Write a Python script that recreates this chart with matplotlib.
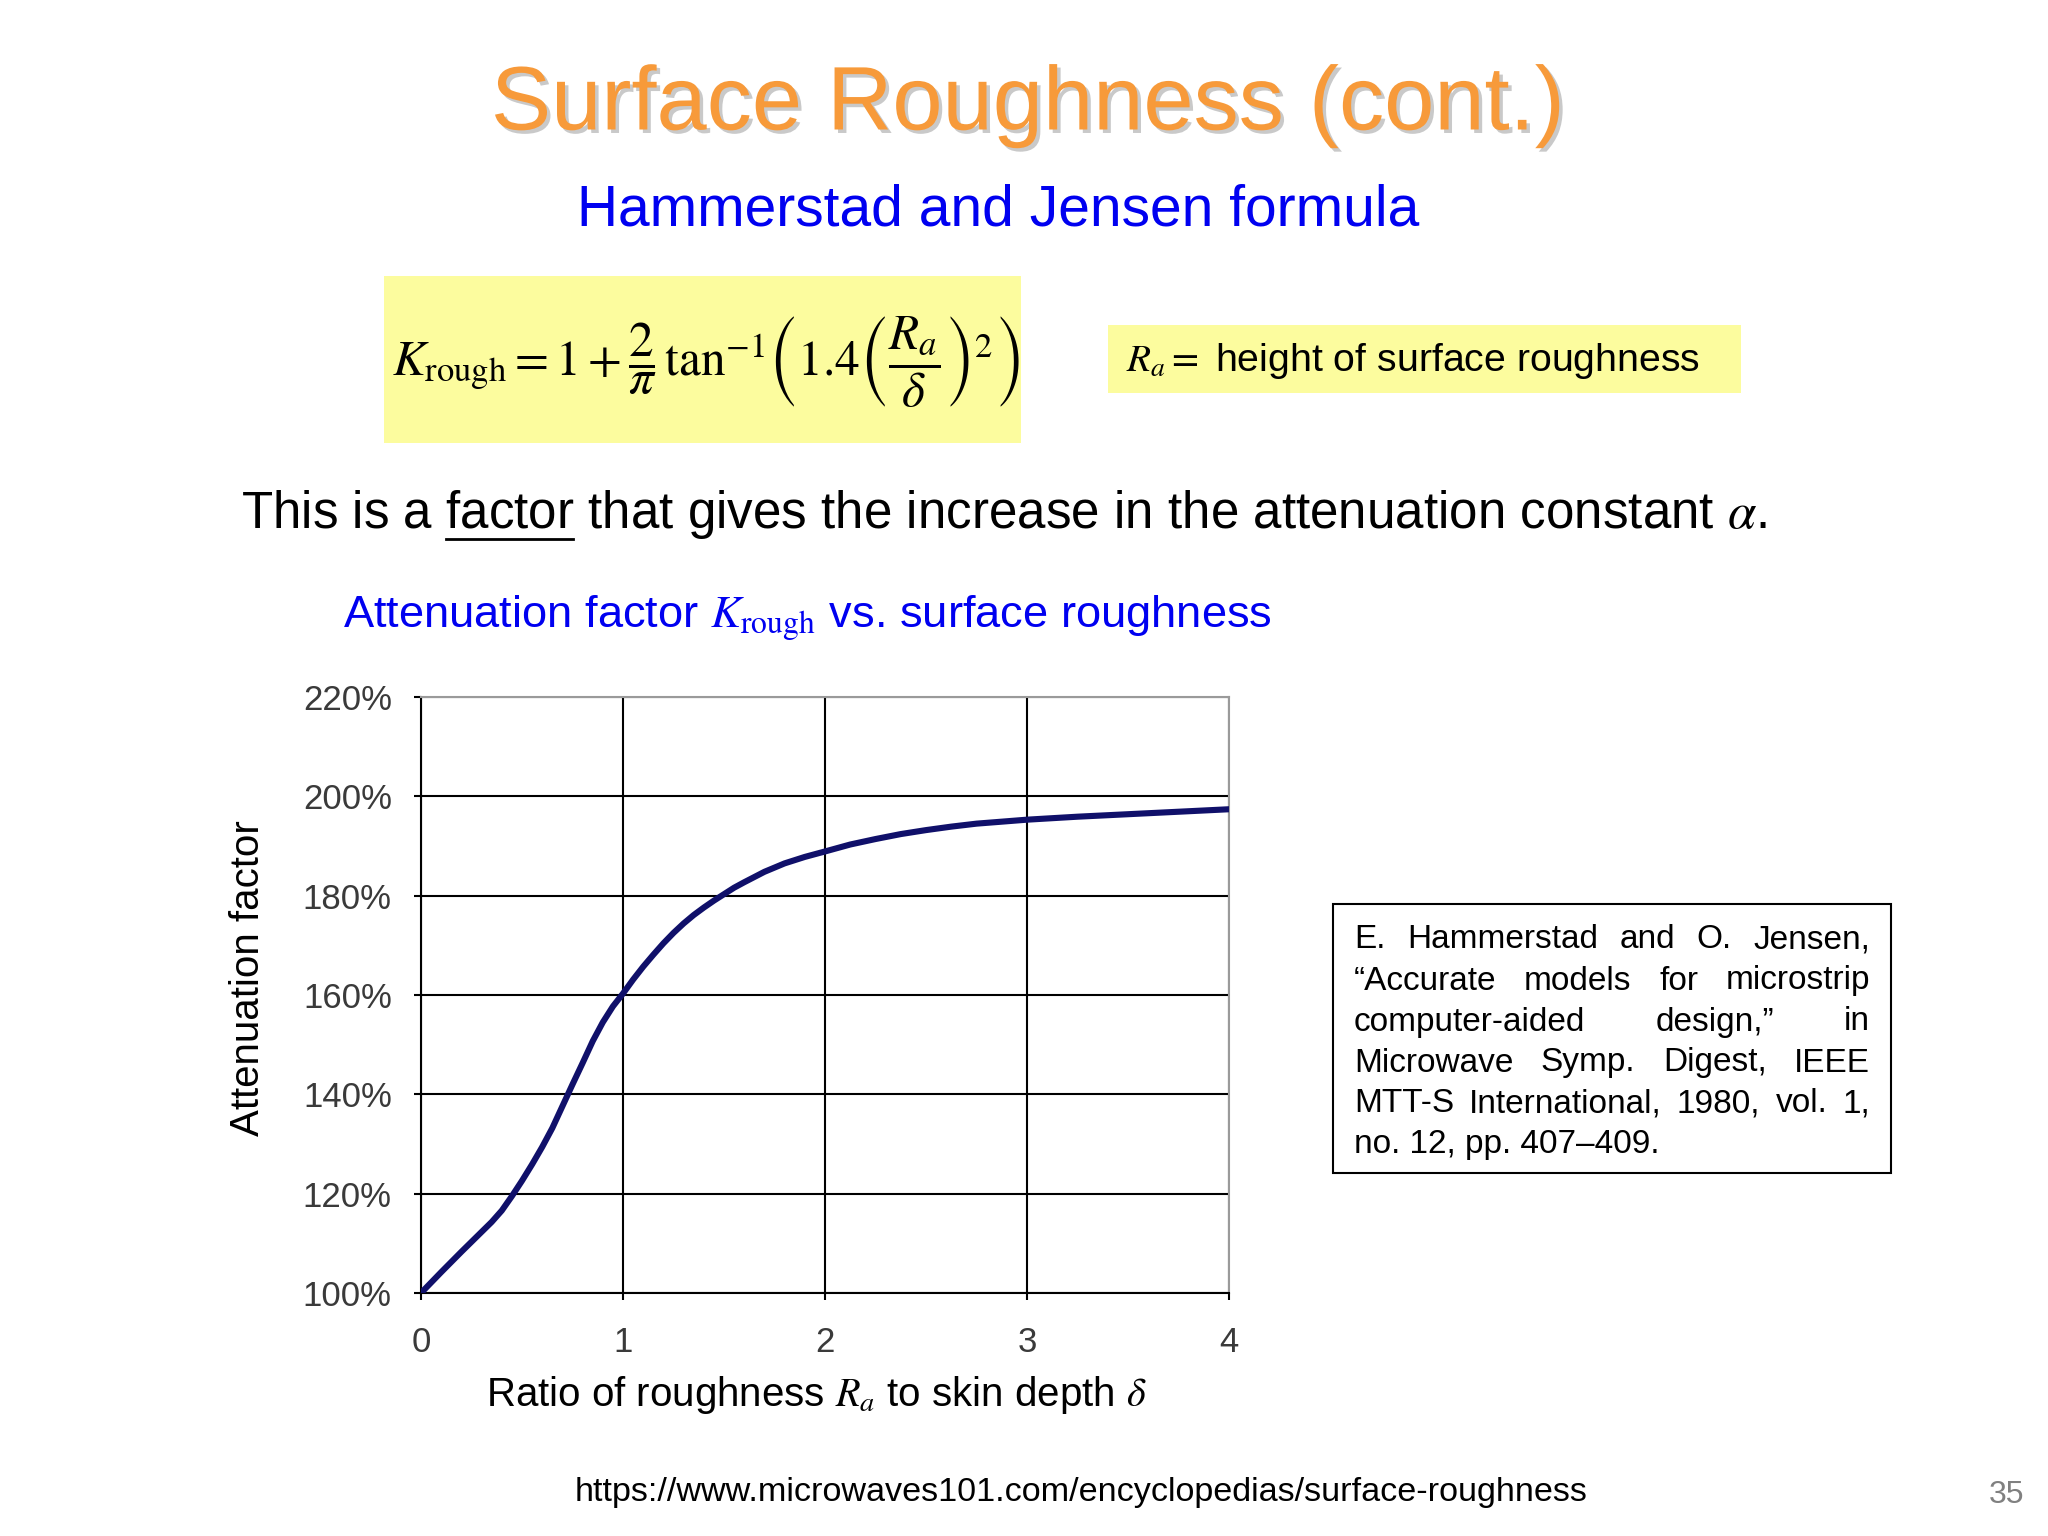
import matplotlib
matplotlib.use("Agg")
import matplotlib.pyplot as plt
import matplotlib.patheffects as pe
from matplotlib.patches import Rectangle
from matplotlib.ticker import FuncFormatter

# Ratio of roughness Ra to skin depth
ratio = [0, 0.1, 0.2, 0.3, 0.35, 0.4, 0.45, 0.5, 0.55, 0.6, 0.65, 0.7, 0.75,
         0.8, 0.85, 0.9, 0.95, 1.0, 1.05, 1.1, 1.15, 1.2, 1.25, 1.3, 1.35,
         1.4, 1.45, 1.5, 1.55, 1.6, 1.7, 1.8, 1.9, 2.0, 2.125, 2.25, 2.375,
         2.5, 2.625, 2.75, 3.0, 3.25, 3.5, 3.75, 4.0]
# Attenuation factor in percent
atten_pct = [100, 104.2, 108.3, 112.3, 114.3, 116.6, 119.5, 122.6, 125.9,
             129.4, 133.2, 137.6, 142.0, 146.3, 150.7, 154.5, 157.7, 160.3,
             163.1, 165.7, 168.1, 170.4, 172.5, 174.4, 176.1, 177.6, 179.0,
             180.3, 181.6, 182.7, 184.8, 186.5, 187.8, 188.9, 190.3, 191.4,
             192.4, 193.2, 193.9, 194.5, 195.3, 195.9, 196.4, 196.9, 197.4]

x_ticks = [0, 1, 2, 3, 4]
y_ticks = [100, 120, 140, 160, 180, 200, 220]

ref_lines = [
    "E. Hammerstad and O. Jensen,",
    "\u201cAccurate models for microstrip",
    "computer-aided design,\u201d in",
    "Microwave Symp. Digest, IEEE",
    "MTT-S International, 1980, vol. 1,",
    "no. 12, pp. 407\u2013409.",
]

W, H = 2048, 1536
plt.rcParams["font.family"] = ["Liberation Sans", "DejaVu Sans"]
plt.rcParams["mathtext.fontset"] = "stix"

fig = plt.figure(figsize=(W / 100, H / 100), dpi=100)
fig.patch.set_facecolor("white")


def fx(px):
    return px / W


def fy(py):
    return 1 - py / H


# Title
fig.text(fx(1028), fy(106), "Surface Roughness (cont.)", color="#F79A3A",
         fontsize=65, ha="center", va="center",
         path_effects=[pe.SimplePatchShadow(offset=(2.5, -2.5), shadow_rgbFace="#888888", alpha=0.45),
                       pe.Normal()])
fig.text(fx(998), fy(210), "Hammerstad and Jensen formula", color="#0000F0",
         fontsize=41, ha="center", va="center")

# Formula boxes
fig.patches.append(Rectangle((fx(384), fy(443)), fx(1021) - fx(384), fy(276) - fy(443),
                             transform=fig.transFigure, facecolor="#FCFC9E", edgecolor="none"))
fig.text(fx(392), fy(362),
         r"$K_{\mathrm{rough}}=1+\dfrac{2}{\pi}\,\mathrm{tan}^{-1}\left(1.4\left(\dfrac{R_a}{\delta}\right)^{2}\right)$",
         fontsize=35.5, ha="left", va="center", color="black")
fig.patches.append(Rectangle((fx(1108), fy(393)), fx(1741) - fx(1108), fy(325) - fy(393),
                             transform=fig.transFigure, facecolor="#FCFC9E", edgecolor="none"))
fig.text(fx(1126), fy(361), r"$R_a=$ height of surface roughness",
         fontsize=28.3, ha="left", va="center", color="black")

# Sentence with underlined word
sent_x, sent_y, sent_fs = 241, 515, 36.8
fig.text(fx(sent_x), fy(sent_y),
         r"This is a factor that gives the increase in the attenuation constant $\alpha$.",
         fontsize=sent_fs, ha="left", va="center", color="black")
renderer = fig.canvas.get_renderer()


def text_width(s, fs):
    t = fig.text(0, 0, s, fontsize=fs)
    w = t.get_window_extent(renderer).width
    t.remove()
    return w


u0 = sent_x + text_width("This is a x", sent_fs) - text_width("x", sent_fs)
u1 = sent_x + text_width("This is a factor", sent_fs)
fig.add_artist(plt.Line2D([fx(u0), fx(u1)], [fy(sent_y + 24), fy(sent_y + 24)],
                          transform=fig.transFigure, color="black", lw=2))

fig.text(fx(343), fy(618), r"Attenuation factor $K_{\mathrm{rough}}$ vs. surface roughness",
         fontsize=32.6, ha="left", va="center", color="#0000F0")

# Chart
ax = fig.add_axes([fx(421), fy(1293), fx(1229) - fx(421), fy(697) - fy(1293)])
ax.plot(ratio, atten_pct, color="#10106A", lw=4.4, solid_joinstyle="round",
        solid_capstyle="round", zorder=3)
ax.set_xlim(0, 4)
ax.set_ylim(100, 220)
ax.set_xticks(x_ticks)
ax.set_yticks(y_ticks)
ax.yaxis.set_major_formatter(FuncFormatter(lambda v, p: f"{v:.0f}%"))
ax.grid(True, color="black", lw=1.5)
ax.set_axisbelow(True)
for side in ["left", "bottom"]:
    ax.spines[side].set_color("black")
    ax.spines[side].set_linewidth(1.5)
for side in ["top", "right"]:
    ax.spines[side].set_color("#9a9a9a")
    ax.spines[side].set_linewidth(1.5)
ax.tick_params(direction="out", length=5, width=1.5, colors="black",
               labelcolor="#3a3a3a", labelsize=25, pad=16)
ax.tick_params(axis="x", pad=19)

fig.text(fx(248), fy(978), "Attenuation factor", rotation=90, fontsize=29,
         ha="center", va="center", color="black")
fig.text(fx(816), fy(1395), r"Ratio of roughness $R_a$ to skin depth $\delta$",
         fontsize=29, ha="center", va="center", color="black")

# Reference box, justified text
fig.patches.append(Rectangle((fx(1333), fy(1173)), fx(1891) - fx(1333), fy(904) - fy(1173),
                             transform=fig.transFigure, facecolor="white",
                             edgecolor="black", lw=1.5))
ref_fs = 24
left, right = 1354, 1870
for i, line in enumerate(ref_lines):
    y = 940 + i * 41
    words = line.split(" ")
    if i == len(ref_lines) - 1:
        fig.text(fx(left), fy(y), line, fontsize=ref_fs, ha="left", va="center")
        continue
    widths = [text_width(w_, ref_fs) for w_ in words]
    gap = (right - left - sum(widths)) / (len(words) - 1)
    xpos = left
    for w_, wd in zip(words, widths):
        fig.text(fx(xpos), fy(y), w_, fontsize=ref_fs, ha="left", va="center")
        xpos += wd + gap

fig.text(fx(1081), fy(1492), "https://www.microwaves101.com/encyclopedias/surface-roughness",
         fontsize=24.6, ha="center", va="center", color="black")
fig.text(fx(2007), fy(1495), "35", fontsize=23, ha="center", va="center", color="#808080")

fig.savefig("out.png", dpi=100)
